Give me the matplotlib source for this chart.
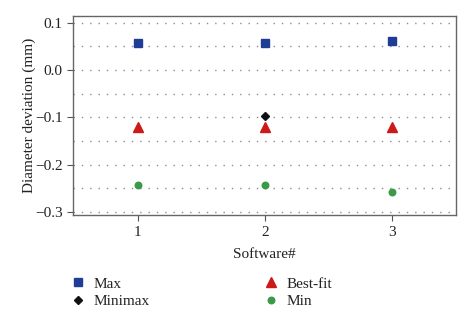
import matplotlib
matplotlib.use("Agg")
import matplotlib.pyplot as plt

plt.rcParams['font.family'] = ['Liberation Serif', 'DejaVu Serif']

software = [1, 2, 3]
max_dev = [0.057, 0.057, 0.062]
best_fit = [-0.120, -0.120, -0.120]
min_dev = [-0.244, -0.244, -0.258]
minimax_x = [2]
minimax_dev = [-0.097]

yticks = [-0.3, -0.2, -0.1, 0.0, 0.1]
ytick_labels = ["\u22120.3", "\u22120.2", "\u22120.1", "0.0", "0.1"]
grid_levels = [-0.3, -0.25, -0.2, -0.15, -0.1, -0.05, 0.0, 0.05, 0.1]

fig = plt.figure(figsize=(4.74, 3.23), dpi=100)
ax = fig.add_axes([0.154, 0.334, 0.808, 0.616])

for g in grid_levels:
    ax.axhline(g, color="#8c8c8c", lw=1.0, dashes=(1, 5), zorder=0)

ax.plot(software, max_dev, ls="none", marker="s", ms=5.5, color="#1f3d96", label="Max", zorder=3)
ax.plot(minimax_x, minimax_dev, ls="none", marker="D", ms=4.3, color="#111111", label="Minimax", zorder=3)
ax.plot(software, best_fit, ls="none", marker="^", ms=6.8, color="#cc1a1a", label="Best-fit", zorder=3)
ax.plot(software, min_dev, ls="none", marker="o", ms=4.7, color="#3a9a48", label="Min", zorder=3)

ax.set_xlim(0.49, 3.505)
ax.set_ylim(-0.307, 0.114)
ax.set_xticks(software)
ax.set_yticks(yticks)
ax.set_yticklabels(ytick_labels)
ax.tick_params(direction="out", length=4, width=0.8, colors="#555555", labelcolor="#222222", labelsize=11)
for sp in ax.spines.values():
    sp.set_color("#666666")
    sp.set_linewidth(1.0)

ax.set_xlabel("Software#", fontsize=11, color="#222222", labelpad=7)
ax.set_ylabel("Diameter deviation (mm)", fontsize=11, color="#222222", labelpad=-1)

handles, labels = ax.get_legend_handles_labels()
fig.legend(handles, labels, ncol=2, loc="upper left", bbox_to_anchor=(0.149, 0.142),
           frameon=False, fontsize=11, handlelength=1.0, handletextpad=0.47,
           columnspacing=7.5, labelspacing=0.25, borderpad=0, borderaxespad=0,
           labelcolor="#222222")

fig.savefig("out.png", dpi=100)
